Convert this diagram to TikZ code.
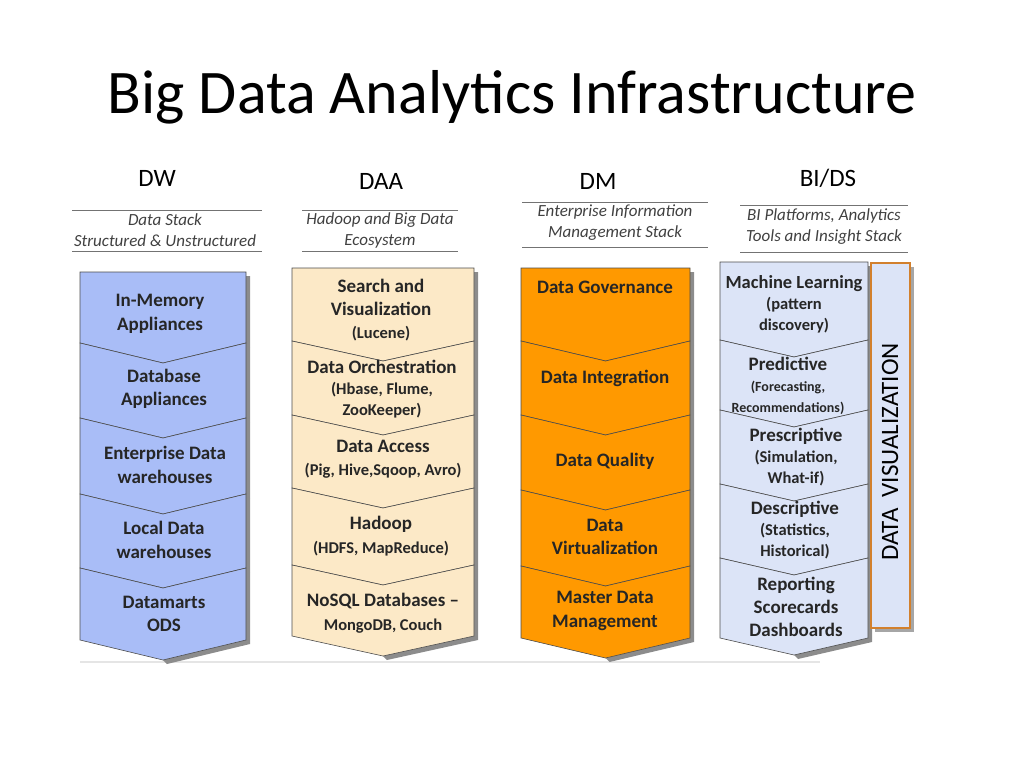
\documentclass[tikz,border=0pt]{standalone}
\usepackage{fontspec}
\setmainfont{Carlito}
\usetikzlibrary{shadows}
\begin{document}
\begin{tikzpicture}[x=1pt,y=-1pt,
  lbl/.style={font=\bfseries\fontsize{19}{23.5}\selectfont,align=center,text=black!85},
  hdr/.style={font=\fontsize{25}{28}\selectfont},
  sub/.style={font=\itshape\fontsize{17}{21}\selectfont,align=center,text=black!75},
  rule/.style={draw=black!55,line width=0.8pt},
  seg/.style={draw=black!70,line width=0.6pt}]
\useasboundingbox (0,0) rectangle (1024,768);
\definecolor{cdw}{HTML}{A9BDF7}
\definecolor{cdaa}{HTML}{FCE9C7}
\definecolor{cdm}{HTML}{FF9900}
\definecolor{cbi}{HTML}{DCE4F7}
\node[font=\fontsize{62}{70}\selectfont] (title) at (512,97) {Big Data Analytics Infrastructure};
% headers
\node[hdr] (hdw) at (157,178) {DW};
\node[hdr] (hdaa) at (381,181) {DAA};
\node[hdr] (hdm) at (598,181) {DM};
\node[hdr] (hbi) at (828,178) {BI/DS};
\draw[rule] (72,210) -- (262,210); \draw[rule] (72,251) -- (262,251);
\node[sub] (sdw) at (165,230) {Data Stack\\Structured \& Unstructured};
\draw[rule] (302,210) -- (458,210); \draw[rule] (302,251) -- (458,251);
\node[sub] (sdaa) at (380,230) {Hadoop and Big Data\\Ecosystem};
\draw[rule] (522,202) -- (708,202); \draw[rule] (522,247) -- (708,247);
\node[sub] (sdm) at (615,223) {Enterprise Information\\Management Stack};
\draw[rule] (740,205) -- (908,205); \draw[rule] (740,252) -- (908,252);
\node[sub] (sbi) at (824,227) {BI Platforms, Analytics\\Tools and Insight Stack};
\draw[black!10,line width=2pt] (80,662) -- (820,662);
\newcommand{\mycol}[6]{%
 \pgfmathsetmacro{\xc}{(#1+#2)/2}%
 \def\prev{#6}\def\first{1}%
 \foreach \b in {#4}{%
   \ifnum\first=1
     \fill[black!45] (#1+4,\prev+4) -- (#2+4,\prev+4) -- (#2+4,\b+4) -- (\xc+4,\b+#5+4) -- (#1+4,\b+4) -- cycle;
     \filldraw[seg,fill=#3] (#1,\prev) -- (#2,\prev) -- (#2,\b) -- (\xc,\b+#5) -- (#1,\b) -- cycle;
   \else
     \fill[black!45] (#2,\prev+4) -- (#2+4,\prev+4) -- (#2+4,\b+4) -- (\xc+4,\b+#5+4) -- (\xc,\b+#5) -- (#2,\b) -- cycle;
     \filldraw[seg,fill=#3] (#1,\prev) -- (\xc,\prev+#5) -- (#2,\prev) -- (#2,\b) -- (\xc,\b+#5) -- (#1,\b) -- cycle;
   \fi
   \global\let\prev\b \gdef\first{0}%
 }}
\mycol{80}{246}{cdw}{343,418,494,568,640}{20}{272}
\mycol{292}{474}{cdaa}{341,415,488,565,636}{20}{268}
\mycol{521}{690}{cdm}{341,415,490,566,638}{20}{268}
\mycol{720}{868}{cbi}{340,410,484,558,638}{17}{262}
% DW labels
\node[lbl] (a1) at (160,314) {In-Memory\\Appliances};
\node[lbl] (a2) at (164,389) {Database\\Appliances};
\node[lbl] (a3) at (165,465) {Enterprise Data\\warehouses};
\node[lbl] (a4) at (164,540) {Local Data\\warehouses};
\node[lbl] (a5) at (164,614) {Datamarts\\ODS};
% DAA
\node[lbl,font=\bfseries\fontsize{19}{23}\selectfont] (b1) at (381,310) {Search and\\Visualization\\{\fontsize{16.5}{20}\selectfont(Lucene)}};
\node[lbl,font=\bfseries\fontsize{19}{21}\selectfont] (b2) at (382,389) {Data Orchestration\\{\fontsize{16.5}{21}\selectfont(Hbase, Flume,}\\{\fontsize{16.5}{20}\selectfont ZooKeeper)}};
\node[lbl] (b3) at (383,459) {Data Access\\{\fontsize{16.5}{20}\selectfont(Pig, Hive,Sqoop, Avro)}};
\node[lbl] (b4) at (381,536) {Hadoop\\{\fontsize{16.5}{20}\selectfont(HDFS, MapReduce)}};
\node[lbl] (b5) at (383,613) {NoSQL Databases --\\{\fontsize{16.5}{20}\selectfont MongoDB, Couch}};
% DM
\node[lbl] (c1) at (605,287) {Data Governance};
\node[lbl] (c2) at (605,378) {Data Integration};
\node[lbl] (c3) at (605,461) {Data Quality};
\node[lbl] (c4) at (605,537) {Data\\Virtualization};
\node[lbl] (c5) at (605,611) {Master Data\\Management};
% BI
\node[lbl,font=\bfseries\fontsize{18.5}{21}\selectfont] (d1) at (794,304) {Machine Learning\\{\fontsize{16.5}{21}\selectfont(pattern}\\{\fontsize{16.5}{20}\selectfont discovery)}};
\node[lbl,font=\bfseries\fontsize{19}{21}\selectfont] (d2) at (788,386) {Predictive\\{\fontsize{14}{20}\selectfont(Forecasting,}\\{\fontsize{14}{16}\selectfont Recommendations)}};
\node[lbl,font=\bfseries\fontsize{19}{21}\selectfont] (d3) at (796,457) {Prescriptive\\{\fontsize{16.5}{21}\selectfont(Simulation,}\\{\fontsize{16.5}{20}\selectfont What-if)}};
\node[lbl,font=\bfseries\fontsize{19}{21}\selectfont] (d4) at (795,530) {Descriptive\\{\fontsize{16.5}{21}\selectfont(Statistics,}\\{\fontsize{16.5}{20}\selectfont Historical)}};
\node[lbl,font=\bfseries\fontsize{19}{23}\selectfont] (d5) at (796,607) {Reporting\\Scorecards\\Dashboards};
% Data visualization box
\fill[black!35] (875,267) rectangle (914,632);
\filldraw[draw=brown!70!orange,line width=1.5pt,fill=cbi] (871,263) rectangle (910,628);
\node[rotate=90,font=\fontsize{25}{28}\selectfont] (dv) at (890,452) {DATA\ \ VISUALIZATION};
\end{tikzpicture}
\end{document}
